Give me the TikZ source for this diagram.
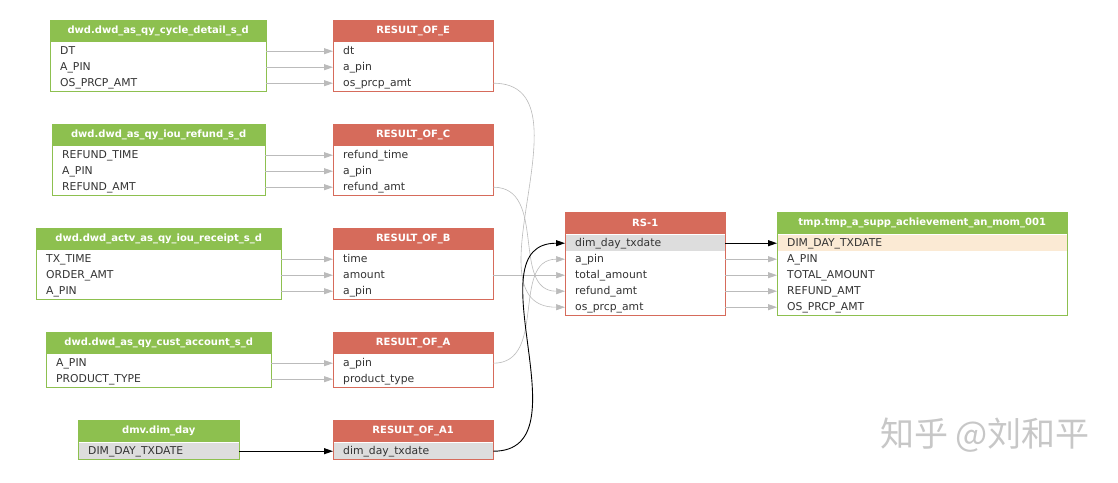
\documentclass[tikz,border=0pt]{standalone}
\usepackage{fontspec}
\setmainfont{DejaVu Sans}
\newfontfamily\cjk{Noto Sans CJK SC}
\usetikzlibrary{arrows.meta}
\definecolor{gcol}{HTML}{8DC04F}
\definecolor{rcol}{HTML}{D66B5B}
\definecolor{rowgray}{HTML}{DDDDDD}
\definecolor{rowbeige}{HTML}{FBEAD4}
\definecolor{ecol}{HTML}{BBBBBB}
\tikzset{
 hdr/.style={inner sep=0pt,minimum height=22,text=white,font=\fontsize{10}{11}\selectfont\bfseries},
 row/.style={inner xsep=10pt,inner ysep=0pt,minimum height=16,text height=8pt,text depth=2pt,font=\fontsize{10.8}{12}\selectfont,text=black!80},
 garr/.style={draw=ecol,line width=0.9pt,-{Triangle[length=9pt,width=6pt,fill=ecol]}},
 barr/.style={draw=black,line width=1.1pt,-{Triangle[length=9pt,width=6pt]}},
 gcurve/.style={draw=ecol,line width=0.6pt,-{Triangle[length=9pt,width=6pt,fill=ecol]}},
}
\newcommand\tbl[8]{%
 \node[hdr,fill=#6,minimum width={#3-#2},anchor=north west] (#1) at (#2,#4) {#5};
 \foreach \t [count=\i] in {#7} {\node[row,text width={#3-#2-20},anchor=north west] (#1-\i) at (#2,{#4+23+(\i-1)*16}) {\t};}
 \draw[#6,line width=0.8pt] (#2,#4) rectangle (#3,{#4+23+#8*16});
}
\begin{document}
\begin{tikzpicture}[x=1pt,y=-1pt]
\useasboundingbox[fill=white] (0,0) rectangle (1118,482);
% row highlights
\fill[rowgray] (78,443) rectangle (239,459);
\fill[rowgray] (333,443) rectangle (493,459);
\fill[rowgray] (565,235) rectangle (725,251);
\fill[rowbeige] (777,235) rectangle (1067,251);
\tbl{g1}{50}{266}{20}{dwd.dwd\_as\_qy\_cycle\_detail\_s\_d}{gcol}{DT,A\_PIN,OS\_PRCP\_AMT}{3}
\tbl{e}{333}{493}{20}{RESULT\_OF\_E}{rcol}{dt,a\_pin,os\_prcp\_amt}{3}
\tbl{g2}{52}{265}{124}{dwd.dwd\_as\_qy\_iou\_refund\_s\_d}{gcol}{REFUND\_TIME,A\_PIN,REFUND\_AMT}{3}
\tbl{c}{333}{493}{124}{RESULT\_OF\_C}{rcol}{refund\_time,a\_pin,refund\_amt}{3}
\tbl{g3}{36}{281}{228}{dwd.dwd\_actv\_as\_qy\_iou\_receipt\_s\_d}{gcol}{TX\_TIME,ORDER\_AMT,A\_PIN}{3}
\tbl{b}{333}{493}{228}{RESULT\_OF\_B}{rcol}{time,amount,a\_pin}{3}
\tbl{g4}{46}{271}{332}{dwd.dwd\_as\_qy\_cust\_account\_s\_d}{gcol}{A\_PIN,PRODUCT\_TYPE}{2}
\tbl{a}{333}{493}{332}{RESULT\_OF\_A}{rcol}{a\_pin,product\_type}{2}
\tbl{g5}{78}{239}{420}{dmv.dim\_day}{gcol}{DIM\_DAY\_TXDATE}{1}
\tbl{a1}{333}{493}{420}{RESULT\_OF\_A1}{rcol}{dim\_day\_txdate}{1}
\tbl{rs}{565}{725}{212}{RS-1}{rcol}{dim\_day\_txdate,a\_pin,total\_amount,refund\_amt,os\_prcp\_amt}{5}
\tbl{t}{777}{1067}{212}{tmp.tmp\_a\_supp\_achievement\_an\_mom\_001}{gcol}{DIM\_DAY\_TXDATE,A\_PIN,TOTAL\_AMOUNT,REFUND\_AMT,OS\_PRCP\_AMT}{5}
% straight edges
\foreach \n in {1,2,3} {\draw[garr] (g1-\n.east) -- (e-\n.west); \draw[garr] (g2-\n.east) -- (c-\n.west);}
\draw[garr] (g3-1.east) -- (b-1.west);
\draw[garr] (g3-2.east) -- (b-2.west);
\draw[garr] (g3-3.east) -- (b-3.west);
\draw[garr] (g4-1.east) -- (a-1.west);
\draw[garr] (g4-2.east) -- (a-2.west);
\draw[barr] (g5-1.east) -- (a1-1.west);
\draw[barr] (rs-1.east) -- (t-1.west);
\foreach \n in {2,3,4,5} {\draw[garr] (rs-\n.east) -- (t-\n.west);}
% curves
\draw[gcurve] (e-3.east) to[out=0,in=180,looseness=1.1] (rs-5.west);
\draw[gcurve] (c-3.east) to[out=0,in=180,looseness=1.1] (rs-4.west);
\draw[gcurve] (b-2.east) -- (rs-3.west);
\draw[gcurve] (a-1.east) to[out=0,in=180,looseness=1.1] (rs-2.west);
\draw[barr,line width=0.9pt] (a1-1.east) to[out=0,in=180,looseness=1.1] (rs-1.west);
\node[text=black!22,font=\cjk\fontsize{34}{38}\selectfont,anchor=west,inner sep=0pt] (wm) at (880,435) {知乎 @刘和平};
\end{tikzpicture}
\end{document}
